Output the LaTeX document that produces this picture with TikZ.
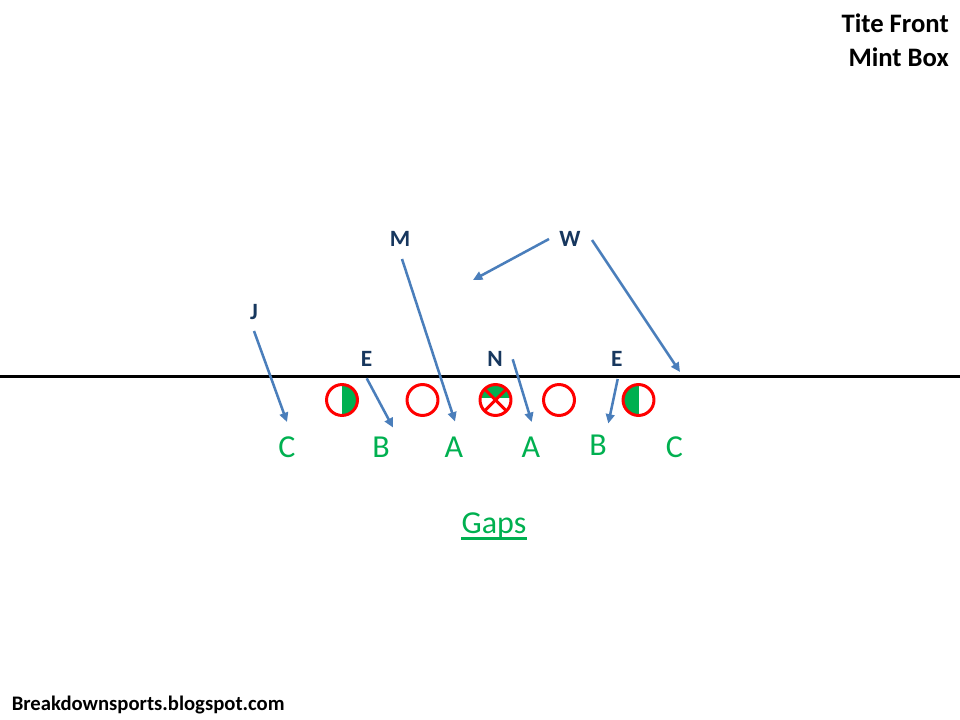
\documentclass[tikz,border=0pt]{standalone}
\usepackage{fontspec}
\setmainfont{Carlito}
\usetikzlibrary{arrows.meta}
\definecolor{navy}{HTML}{17375E}
\definecolor{arrowblue}{HTML}{4A7EBB}
\definecolor{gapgreen}{HTML}{00B050}
\definecolor{lred}{HTML}{FF0000}
\tikzset{
  player/.style={font=\fontsize{17.5}{20}\selectfont\bfseries, text=navy, inner sep=0pt},
  gap/.style={font=\fontsize{24}{28}\selectfont, text=gapgreen, inner sep=0pt},
  move/.style={draw=arrowblue, line width=1.9pt, -{Triangle[length=7pt,width=6.5pt]}},
  lineman/.style={draw=lred, line width=2.25pt},
}
\begin{document}
\begin{tikzpicture}[x=0.75pt,y=-0.75pt]
\useasboundingbox (0,0) rectangle (960,720);
% line of scrimmage
\coordinate (losL) at (0,376);
\coordinate (losR) at (960,376);
\draw[line width=2.25pt] (losL) -- (losR);

% offensive linemen
\coordinate (o1) at (342,400);
\coordinate (o2) at (422.5,400);
\coordinate (o3) at (495.5,400);
\coordinate (o4) at (559,400);
\coordinate (o5) at (638.5,400);
\def\rr{11.6pt}
\begin{scope}
  \clip (o1) circle[radius=\rr];
  \fill[gapgreen] (342,380) rectangle (362,420);
\end{scope}
\begin{scope}
  \clip (o5) circle[radius=\rr];
  \fill[gapgreen] (618.5,380) rectangle (638.5,420);
\end{scope}
\begin{scope}
  \clip (o3) circle[radius=\rr];
  \fill[gapgreen] (475,380) rectangle (516,398.3);
  \draw[lred, line width=2.25pt] (475.5,380) -- (515.5,420);
  \draw[lred, line width=2.25pt] (475.5,420) -- (515.5,380);
\end{scope}
\foreach \o in {o1,o2,o3,o4,o5}{
  \draw[lineman] (\o) circle[radius=\rr];
}

% defenders
\node[player] (J) at (254,312) {J};
\node[player] (M) at (400,238.5) {M};
\node[player] (W) at (570,238.5) {W};
\node[player] (E1) at (366.5,359) {E};
\node[player] (N) at (495,359) {N};
\node[player] (E2) at (616.7,359) {E};

% arrow endpoints
\coordinate (Js) at (254,331);
\coordinate (Je) at (287,422);
\coordinate (Ms) at (402,259);
\coordinate (Me) at (455,421.5);
\coordinate (Wls) at (549,239);
\coordinate (Wle) at (473,280);
\coordinate (Wrs) at (592,240);
\coordinate (Wre) at (680,372);
\coordinate (E1s) at (366.7,378.3);
\coordinate (E1e) at (393,427.5);
\coordinate (Ns) at (512.7,359.3);
\coordinate (Ne) at (531.7,422);
\coordinate (E2s) at (617.7,379);
\coordinate (E2e) at (608.3,423.5);

\draw[move] (Js) -- (Je);
\draw[move] (Ms) -- (Me);
\draw[move] (Wls) -- (Wle);
\draw[move] (Wrs) -- (Wre);
\draw[move] (E1s) -- (E1e);
\draw[move] (Ns) -- (Ne);
\draw[move] (E2s) -- (E2e);

% gaps
\node[gap] (C1) at (287,447) {C};
\node[gap] (B1) at (381,447) {B};
\node[gap] (A1) at (454,447) {A};
\node[gap] (A2) at (531,447) {A};
\node[gap] (B2) at (598,445.5) {B};
\node[gap] (C2) at (674.5,447) {C};

\node[gap, anchor=base] (gaps) at (494,533) {Gaps};
\draw[gapgreen, line width=1.8pt] ([yshift=-4.2pt]gaps.base west) -- ([yshift=-4.2pt]gaps.base east);

% title
\node[font=\fontsize{20}{24}\selectfont\bfseries, anchor=base east, inner sep=0pt] (t1) at (949,33) {Tite Front};
\node[font=\fontsize{20}{24}\selectfont\bfseries, anchor=base east, inner sep=0pt] (t2) at (949,67) {Mint Box};

% footer
\node[font=\fontsize{15.5}{18}\selectfont\bfseries, anchor=base west, inner sep=0pt] (foot) at (11.5,710) {Breakdownsports.blogspot.com};
\end{tikzpicture}
\end{document}
